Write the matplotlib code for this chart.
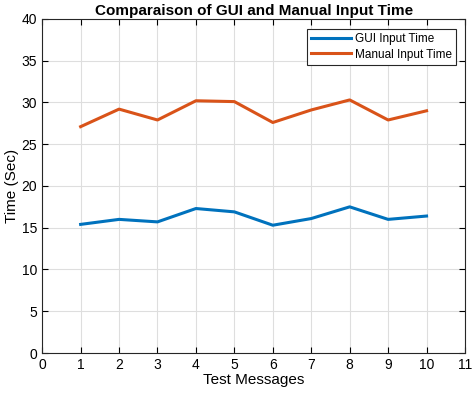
import matplotlib
matplotlib.use('Agg')
import matplotlib.pyplot as plt

messages = [1, 2, 3, 4, 5, 6, 7, 8, 9, 10]
gui_time = [15.4, 16.0, 15.7, 17.3, 16.9, 15.3, 16.1, 17.5, 16.0, 16.4]
manual_time = [27.1, 29.2, 27.9, 30.2, 30.1, 27.6, 29.1, 30.3, 27.9, 29.0]

plt.rcParams['font.family'] = ['Liberation Sans', 'DejaVu Sans']

fig = plt.figure(figsize=(4.74, 3.94), dpi=100)
ax = fig.add_axes([0.089, 0.104, 0.892, 0.848])

ax.plot(messages, gui_time, color='#0072BD', linewidth=2.2, label='GUI Input Time')
ax.plot(messages, manual_time, color='#D95319', linewidth=2.2, label='Manual Input Time')

ax.set_xlim(0, 11)
ax.set_ylim(0, 40)
ax.set_xticks(range(0, 12))
ax.set_yticks(range(0, 41, 5))
ax.grid(True, color='#dedede', linewidth=0.8)
ax.tick_params(direction='in', labelsize=10, top=True, right=True, length=4)
for s in ax.spines.values():
    s.set_color('#262626')
    s.set_linewidth(0.8)

ax.set_xlabel('Test Messages', fontsize=11, labelpad=1)
ax.set_ylabel('Time (Sec)', fontsize=11, labelpad=2)
ax.set_title('Comparaison of GUI and Manual Input Time', fontsize=11, fontweight='bold', pad=3)

leg = ax.legend(loc='upper right', fontsize=8.5, fancybox=False, framealpha=1,
                edgecolor='#262626', handlelength=3.4, handletextpad=0.3,
                borderpad=0.35, labelspacing=0.3, borderaxespad=0,
                bbox_to_anchor=(0.979, 0.97))
leg.get_frame().set_linewidth(0.8)

fig.savefig('out.png', dpi=100)
